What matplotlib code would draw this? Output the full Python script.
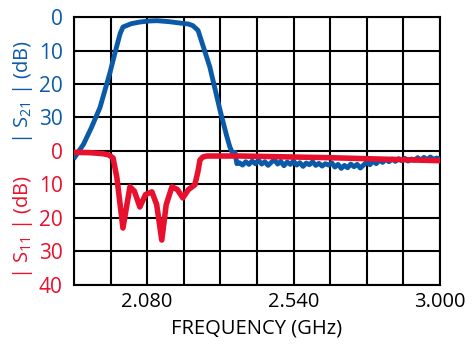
import matplotlib
matplotlib.use('Agg')
import matplotlib.pyplot as plt

plt.rcParams['font.family'] = ['Open Sans', 'DejaVu Sans']
plt.rcParams['mathtext.default'] = 'regular'

BLUE = '#0b5aa8'
RED = '#e8102d'

# |S21| attenuation (dB), upper panel (0 at top)
s21_freq = [1.853, 1.880, 1.905, 1.932, 1.950, 1.963, 1.979, 1.995, 2.004, 2.030,
            2.057, 2.085, 2.111, 2.150, 2.183, 2.210, 2.224, 2.240, 2.277, 2.309,
            2.330, 2.340, 2.350, 2.356, 2.362,
            2.37, 2.38, 2.39, 2.40, 2.41, 2.42, 2.43, 2.44, 2.45, 2.46, 2.47, 2.48,
            2.49, 2.50, 2.51, 2.52, 2.53, 2.54, 2.55, 2.56, 2.57, 2.58, 2.59, 2.60,
            2.61, 2.62, 2.63, 2.64, 2.65, 2.66, 2.67, 2.68, 2.69, 2.70, 2.71, 2.72,
            2.73, 2.74, 2.75, 2.76, 2.77, 2.78, 2.79, 2.80, 2.81, 2.82, 2.83, 2.84,
            2.85, 2.86, 2.87, 2.88, 2.89, 2.90, 2.91, 2.92, 2.93, 2.94, 2.95, 2.96,
            2.97, 2.98, 2.99, 3.00]
s21_db = [41.8, 38.0, 33.0, 27.0, 21.0, 16.7, 10.7, 5.0, 3.0, 2.0,
          1.5, 1.2, 1.1, 1.4, 1.8, 2.1, 2.6, 4.0, 14.9, 27.8,
          35.5, 38.8, 41.0, 40.4, 43.8,
          43.5, 44.2, 43.2, 44.0, 43.0, 43.8, 42.8, 43.9, 43.2, 44.3, 43.4, 42.6,
          43.9, 43.1, 44.4, 43.3, 44.0, 43.0, 44.2, 43.5, 44.6, 43.6, 44.1, 43.2,
          44.3, 43.7, 44.5, 43.8, 44.2, 43.5, 44.8, 44.0, 45.2, 44.3, 45.0, 43.9,
          44.7, 44.0, 45.1, 44.2, 43.3, 44.1, 43.0, 43.8, 42.7, 43.4, 42.5, 43.2,
          42.4, 43.1, 42.3, 42.9, 42.2, 43.0, 42.4, 42.8, 42.0, 42.7, 41.9, 42.6,
          41.8, 42.5, 42.1, 42.4]

# |S11| (dB), lower panel (0 sits at 40 on the shared axis)
s11_freq = [1.853, 1.900, 1.940, 1.960, 1.973, 1.985, 2.004, 2.026, 2.040, 2.057,
            2.075, 2.095, 2.110, 2.126, 2.140, 2.158, 2.175, 2.192, 2.210, 2.230,
            2.240, 2.246, 2.255, 2.268, 2.372, 2.654, 3.000]
s11_db = [0.4, 0.5, 0.8, 1.2, 2.1, 8.0, 23.0, 10.7, 12.0, 16.7,
          13.0, 12.2, 16.0, 26.6, 16.0, 10.7, 11.5, 14.0, 11.5, 10.1,
          6.0, 2.7, 1.8, 1.5, 1.5, 2.0, 2.9]

y_ticks = [0, 10, 20, 30, 40, 50, 60, 70, 80]
y_tick_labels = ['0', '10', '20', '30', '0', '10', '20', '30', '40']
x_ticks = [2.080, 2.540, 3.000]
x_tick_labels = ['2.080', '2.540', '3.000']

fig = plt.figure(figsize=(4.74, 3.58), dpi=100)
ax = fig.add_axes([0.156, 0.204, 0.772, 0.7485])

ax.plot(s21_freq, s21_db, color=BLUE, lw=3.5, solid_joinstyle='round', zorder=3)
ax.plot(s11_freq, [40 + v for v in s11_db], color=RED, lw=4.0,
        solid_joinstyle='round', zorder=4)

ax.set_xlim(1.85, 3.0)
ax.set_ylim(80, 0)
ax.set_xticks([1.85 + 0.115 * i for i in range(11)], minor=True)
ax.set_xticks(x_ticks)
ax.set_xticklabels(x_tick_labels)
ax.set_yticks(y_ticks)
ax.set_yticklabels(y_tick_labels)
ax.grid(True, which='both', color='black', lw=1.5, zorder=1)
ax.tick_params(which='both', length=0)
ax.tick_params(axis='x', labelsize=14.5, pad=5)
ax.tick_params(axis='y', labelsize=15, pad=8)
for i, lab in enumerate(ax.get_yticklabels()):
    lab.set_color(BLUE if i < 4 else RED)
for sp in ax.spines.values():
    sp.set_linewidth(1.5)

ax.set_xlabel('FREQUENCY (GHz)', fontsize=14.5, labelpad=5)

fig.text(0.048, 0.743, '| S$_{21}$ | (dB)', rotation=90, color=BLUE,
         fontsize=14.5, ha='center', va='center')
fig.text(0.048, 0.366, '| S$_{11}$ | (dB)', rotation=90, color=RED,
         fontsize=14.5, ha='center', va='center')

fig.savefig('out.png', dpi=100)
